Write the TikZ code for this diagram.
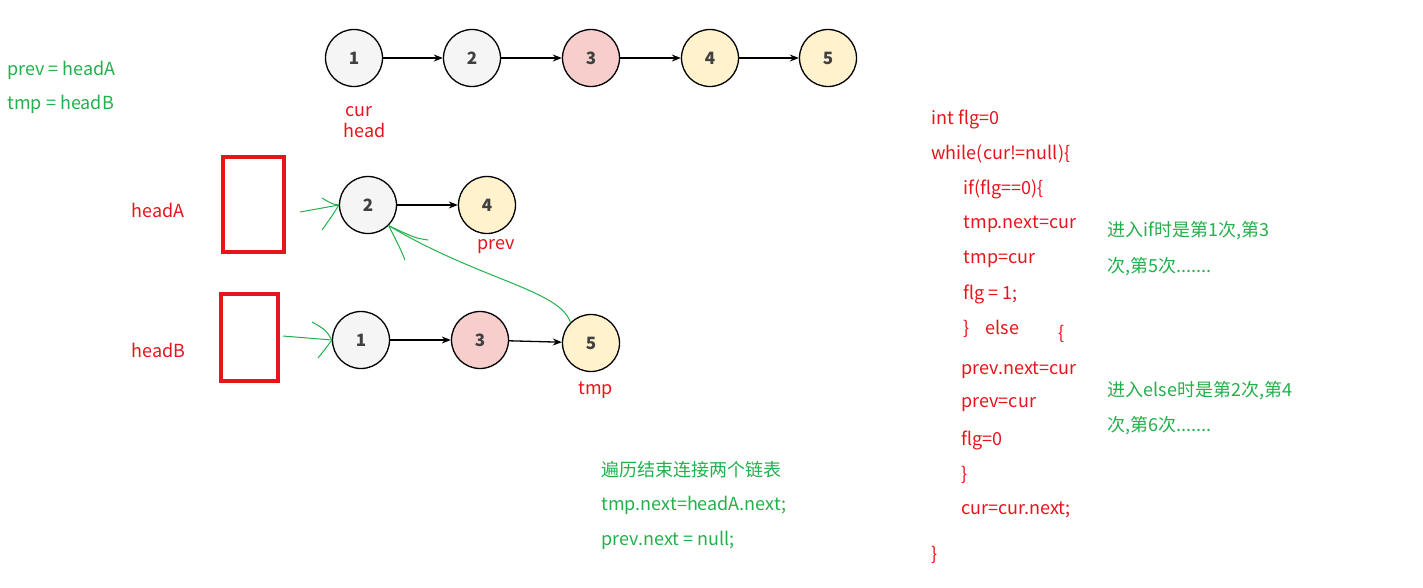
\documentclass[tikz,border=0pt]{standalone}
\usepackage{fontspec}
\setmainfont{Noto Sans CJK SC}
\usetikzlibrary{arrows.meta}
\definecolor{gr}{HTML}{22B14C}
\definecolor{rd}{HTML}{E8141C}
\definecolor{cg}{HTML}{F5F5F5}
\definecolor{cr}{HTML}{F8CECC}
\definecolor{cy}{HTML}{FFF2CC}
\begin{document}
\begin{tikzpicture}[x=1pt,y=-1pt,
  nd/.style={circle,draw=black,line width=1.3pt,minimum size=57pt,inner sep=0pt,font=\fontsize{17}{17}\selectfont\bfseries,text=black!75},
  ar/.style={-{Stealth[length=9pt,width=7pt]},line width=1.3pt},
  rt/.style={text=rd,font=\fontsize{18}{18}\selectfont,anchor=west},
  gt/.style={text=gr,font=\fontsize{18}{18}\selectfont,anchor=west},
  ct/.style={text=rd,font=\fontsize{18}{18}\selectfont,anchor=west},
  hand/.style={draw=gr,line width=1pt}]
\useasboundingbox (0,0) rectangle (1423,587);
\fill[white] (0,0) rectangle (1423,587);
% top row
\node[nd,fill=cg] (t1) at (354,58) {1};
\node[nd,fill=cg] (t2) at (472,58) {2};
\node[nd,fill=cr] (t3) at (591,58) {3};
\node[nd,fill=cy] (t4) at (710,58) {4};
\node[nd,fill=cy] (t5) at (828,58) {5};
\foreach \a/\b in {t1/t2,t2/t3,t3/t4,t4/t5} \draw[ar] (\a) -- (\b);
\node[rt] (cur) at (342,112) {cur};
\node[rt] (head) at (340,130) {head};
% middle row
\node[nd,fill=cg] (m2) at (368,205) {2};
\node[nd,fill=cy] (m4) at (487,205) {4};
\draw[ar] (m2) -- (m4);
\node[rt] (prev) at (474,247) {prev};
% bottom row
\node[nd,fill=cg] (b1) at (361,340) {1};
\node[nd,fill=cr] (b3) at (480,340) {3};
\node[nd,fill=cy] (b5) at (591,343) {5};
\draw[ar] (b1) -- (b3);
\draw[ar] (b3) -- (b5);
\node[rt] (tmp) at (575,390) {tmp};
% boxes
\node[draw=rd,line width=3.5pt,minimum width=61pt,minimum height=95pt,inner sep=0pt] (ba) at (253.5,204.5) {};
\node[draw=rd,line width=3.5pt,minimum width=57pt,minimum height=87pt,inner sep=0pt] (bb) at (249.5,337.5) {};
\node[rt] (la) at (128,210) {headA};
\node[rt] (lb) at (128,350) {headB};
% hand arrows
\coordinate (h1) at (300,212);
\draw[hand] (h1) -- (m2.west);
\draw[hand] (322,198) .. controls (332,204) .. (m2.west) .. controls (332,216) .. (322,230);
\coordinate (h2) at (283,336);
\draw[hand] (h2) -- (b1.west);
\draw[hand] (312,322) .. controls (326,330) .. (b1.west) .. controls (326,348) .. (318,358);
\draw[hand] (b5.north west) .. controls (560,290) and (480,280) .. (m2.south east);
\draw[hand] (405,260) .. controls (400,248) .. (m2.south east) .. controls (415,238) .. (428,240);
% green text
\node[gt] (g1) at (4,70) {prev = headA};
\node[gt] (g2) at (4,104) {tmp = headB};
\node[gt] (e1) at (598,470) {遍历结束连接两个链表};
\node[gt] (e2) at (598,505) {tmp.next=headA.next;};
\node[gt] (e3) at (598,540) {prev.next = null;};
% code
\node[ct] at (928,119) {int flg=0};
\node[ct] at (928,154) {while(cur!=null)\{};
\node[ct] at (960,189) {if(flg==0)\{};
\node[ct] at (960,224) {tmp.next=cur};
\node[ct] at (960,259) {tmp=cur};
\node[ct] at (960,294) {flg = 1;};
\node[ct] at (960,329) {\}\ \ \ \ else};
\node[ct] at (1055,334) {\{};
\node[ct] at (958,370) {prev.next=cur};
\node[ct] at (958,405) {prev=cur};
\node[ct] at (958,440) {flg=0};
\node[ct] at (958,475) {\}};
\node[ct] at (958,510) {cur=cur.next;};
\node[ct] at (928,555) {\}};
\node[gt] at (1104,231) {进入if时是第1次,第3};
\node[gt] at (1104,267) {次,第5次.......};
\node[gt] at (1104,391) {进入else时是第2次,第4};
\node[gt] at (1104,426) {次,第6次.......};
\end{tikzpicture}
\end{document}
